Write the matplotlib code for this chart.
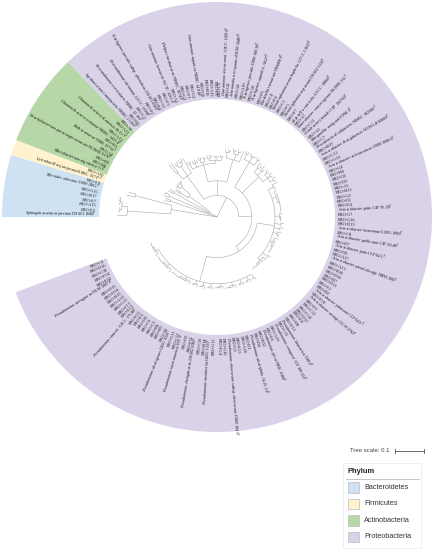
import matplotlib
matplotlib.use('Agg')
import matplotlib.pyplot as plt
import numpy as np
from matplotlib.collections import LineCollection
from matplotlib.patches import Rectangle

plt.rcParams['mathtext.fontset'] = 'custom'
plt.rcParams['mathtext.rm'] = 'Liberation Serif'
plt.rcParams['mathtext.it'] = 'Liberation Serif:italic'

# ---------------- data ----------------
LEAF_LABELS = [
    # Bacteroidetes (8)
    "Sphingobacterium faecium DSM 11690T", "BRO-E5", "BRO-A15", "BRO-E7", "BRO-B17", "BRO-G15",
    "Myroides odoratus DSM 2801T", "BRO-E9",
    # Firmicutes (2)
    "Lysinibacillus fusiformis NBRC 15717T", "BRO-A20",
    # Actinobacteria (12)
    "Microbacterium algeriense G1T", "BRO-B8", "BRO-B9",
    "Brachybacterium paraconglomeratum NCIMB 9176T", "BRO-A4",
    "Rothia amarae DSM 15714T", "BRO-B1",
    "Glutamicibacter nicotianae NBRC 14234T", "BRO-A12",
    "Glutamicibacter arilaitensis Re117T", "BRO-A11", "BRO-A6",
    # Proteobacteria (140)
    "Agrobacterium tumefaciens NBRC 15193T", "BRO-B5",
    "Brevundimonas vesicularis NBRC 12165T", "BRO-C2",
    "Brevundimonas diminuta ATCC 11568T", "BRO-F2",
    "Alcaligenes faecalis subsp. phenolicus DSM 16503T",
    "BRO-E2", "BRO-A1", "BRO-F3",
    "Comamonas kerstersii KCTC 12913T", "BRO-A2",
    "Delftia tsuruhatensis NBRC 16741T", "BRO-G1", "BRO-F1", "BRO-G2",
    "Comamonas aquatica NBRC 14918T", "BRO-G9", "BRO-B16", "BRO-A16", "BRO-F8", "BRO-C3",
    "Comamonas testosteroni ATCC 11996T", "BRO-G8",
    "Achromobacter spanius DSM 14407T", "BRO-A8", "BRO-A10",
    "Alcaligenes faecalis DSM 30030T", "BRO-C10",
    "Alcaligenes aquatilis AK27T", "BRO-F6",
    "Bordetella trematum H044680T", "BRO-C4", "BRO-F4",
    "Stenotrophomonas maltophilia ATCC 13637T", "BRO-C1", "BRO-F5",
    "Stenotrophomonas pavanii DSM 25135T", "BRO-F7",
    "Klebsiella variicola ATCC 19866T", "BRO-A7",
    "Enterobacter cancerogenus NCPPB 312T", "BRO-C13",
    "Citrobacter freundii CIP 102702T", "BRO-A3",
    "Morganella morganii PPS01T", "BRO-C7",
    "Providencia alcalifaciens NBRC 102560T", "BRO-B13",
    "Acinetobacter chengduensis WCHAc060005T", "BRO-C11", "BRO-G14",
    "Acinetobacter calcoaceticus DSM 30006T",
    "BRO-G4", "BRO-B4", "BRO-G6", "BRO-D3", "BRO-A5", "BRO-B11", "BRO-G3", "BRO-D2", "BRO-E4",
    "Acinetobacter pittii CIP 70.29T",
    "BRO-G7", "BRO-G16", "BRO-D13",
    "Acinetobacter bereziniae LMG 1003T", "BRO-C8",
    "Acinetobacter guillouiae CIP 63.46T", "BRO-D7",
    "Acinetobacter junii CIP 64.5T", "BRO-D6", "BRO-A17",
    "Acinetobacter pseudolwoffii NIPH 806T",
    "BRO-A13", "BRO-B10", "BRO-D10", "BRO-B7", "BRO-D11", "BRO-E1", "BRO-B2",
    "Acinetobacter johnsonii CIP 64.6T", "BRO-E10",
    "Acinetobacter ursingii LUH 3792T",
    "BRO-F9", "BRO-C12", "BRO-C14", "BRO-D12", "BRO-E8", "BRO-D8", "BRO-F12",
    "Pseudomonas khazarica TBZ2T", "BRO-C15",
    "Pseudomonas composti CIP 109222T", "BRO-A19", "BRO-E6",
    "Pseudomonas fulva NRIC 0180T", "BRO-B12", "BRO-D4",
    "Pseudomonas alcaliphila AL15-21T", "BRO-D1", "BRO-A18", "BRO-E11", "BRO-G5",
    "Pseudomonas oleovorans subsp. oleovorans DSM 1045T",
    "BRO-G10", "BRO-E14", "BRO-G12",
    "Pseudomonas mendocina LMG 1223T", "BRO-B14", "BRO-C16",
    "Pseudomonas chengduensis DSM 26382T", "BRO-F11", "BRO-D5",
    "Pseudomonas toyotomiensis HT-3T", "BRO-C17", "BRO-G11",
    "Pseudomonas alcaligenes LMG 1224T",
    "BRO-A9", "BRO-B3", "BRO-B6", "BRO-C5", "BRO-C6", "BRO-D9", "BRO-E3", "BRO-E12",
    "Pseudomonas stutzeri ATCC 17588T",
    "BRO-E13", "BRO-F13", "BRO-G13", "BRO-A14", "BRO-B15", "BRO-D14", "BRO-D15",
    "Pseudomonas aeruginosa DSM 50071T",
    "BRO-E15", "BRO-F14", "BRO-C18", "BRO-D16", "BRO-C9",
]

PHYLA = ["Bacteroidetes", "Firmicutes", "Actinobacteria", "Proteobacteria"]
PHYLUM_COUNTS = [8, 2, 12, 140]
PHYLUM_COLORS = ["#cfe2f3", "#fff2cc", "#b6d7a8", "#d9d2e9"]

# tree topology (leaf names are indices into LEAF_LABELS), branch lengths in substitutions/site
TREE_NEWICK = (
    "("
    "((0:0.035,((1:0.004,2:0.004):0.006,(3:0.003,(4:0.002,5:0.002):0.002):0.008):0.02):0.15,"
    "(6:0.03,7:0.025):0.13):0.16,"
    "(8:0.02,9:0.02):0.17,"
    "((10:0.02,(11:0.003,12:0.003):0.015):0.15,(13:0.02,14:0.018):0.14,"
    "((15:0.02,16:0.02):0.03,((17:0.008,18:0.008):0.01,(19:0.008,(20:0.003,21:0.003):0.004):0.01):0.04):0.09):0.03,"
    "("
    "((22:0.04,23:0.04):0.03,((24:0.012,25:0.012):0.01,(26:0.012,27:0.012):0.01):0.04,28:0.06):0.1,"
    "(((29:0.01,30:0.01):0.02,(31:0.01,32:0.012,33:0.01):0.015,((34:0.01,35:0.008):0.01,(36:0.004,37:0.004):0.012):0.01,"
    "((38:0.01,(39:0.003,40:0.003):0.006):0.01,(41:0.004,42:0.004,43:0.004):0.012,(44:0.008,45:0.005):0.012):0.01):0.06,"
    "((46:0.01,(47:0.004,48:0.004):0.006):0.02,((49:0.008,50:0.005):0.01,(51:0.01,52:0.006):0.01):0.02,53:0.04):0.08):0.05,"
    "("
    "((54:0.01,55:0.01):0.02,(56:0.01,57:0.005,58:0.006):0.02,(59:0.01,60:0.008):0.02):0.1,"
    "((61:0.02,62:0.015):0.02,(63:0.02,64:0.01):0.02,((65:0.01,66:0.006):0.01,(67:0.012,68:0.01):0.01,(69:0.015,70:0.01):0.01):0.02):0.08,"
    "("
    "((71:0.02,72:0.005,73:0.006):0.02,"
    "(74:0.01,(75:0.002,76:0.002,77:0.002,78:0.002,79:0.002,80:0.002,81:0.002,82:0.002,83:0.002):0.006):0.015,"
    "(84:0.01,(85:0.003,86:0.003,87:0.003):0.004):0.015,(88:0.012,89:0.005):0.02,(90:0.012,91:0.004):0.02,"
    "(92:0.012,(93:0.003,94:0.003):0.005):0.015,"
    "(95:0.015,(96:0.002,97:0.002,98:0.002,99:0.002,100:0.002,101:0.002,102:0.002):0.006):0.01,"
    "(103:0.012,104:0.004):0.02,"
    "(105:0.015,(106:0.002,107:0.002,108:0.002,109:0.002,110:0.002,111:0.002,112:0.002):0.006):0.01):0.06,"
    "(((113:0.01,114:0.005):0.015,(115:0.01,(116:0.002,117:0.002):0.004):0.012,"
    "(118:0.01,(119:0.002,120:0.002):0.004):0.012,"
    "(121:0.01,(122:0.002,123:0.002,124:0.002,125:0.002):0.005):0.012,"
    "(126:0.008,(127:0.002,128:0.002,129:0.002):0.004):0.01,"
    "(130:0.01,(131:0.002,132:0.002):0.004):0.012,(133:0.01,(134:0.002,135:0.002):0.004):0.012,"
    "(136:0.01,(137:0.002,138:0.002):0.004):0.012,"
    "(139:0.012,(140:0.002,141:0.002,142:0.002,143:0.002,144:0.002,145:0.002,146:0.002,147:0.002):0.005):0.01,"
    "(148:0.012,(149:0.002,150:0.002,151:0.002,152:0.002,153:0.002,154:0.002,155:0.002):0.005):0.01,"
    "(156:0.012,(157:0.002,158:0.002,159:0.002,160:0.002,161:0.002):0.005):0.01):0.06):0.03"
    "):0.02"
    "):0.045"
    "):0.075"
    ");"
)
SCALE_BAR_VALUE = 0.1


# ---------------- helpers ----------------
def parse_newick(s):
    s = "".join(s.split())
    pos = 0

    def node():
        nonlocal pos
        n = {"children": [], "name": None, "len": 0.0}
        if s[pos] == "(":
            pos += 1
            n["children"].append(node())
            while s[pos] == ",":
                pos += 1
                n["children"].append(node())
            pos += 1  # ')'
        st = pos
        while pos < len(s) and s[pos] not in ":,();":
            pos += 1
        if s[st:pos]:
            n["name"] = int(s[st:pos])
        if pos < len(s) and s[pos] == ":":
            pos += 1
            st = pos
            while s[pos] not in ",();":
                pos += 1
            n["len"] = float(s[st:pos])
        return n

    return node()


def fmt_label(lab):
    if lab.startswith("BRO"):
        return lab
    w = lab.split()
    if len(w) > 3 and w[2] == "subsp.":
        sp = r"$\mathit{%s}\ \mathit{%s}$ subsp. $\mathit{%s}$" % (w[0], w[1], w[3])
        rest = w[4:]
    else:
        sp = r"$\mathit{%s}\ \mathit{%s}$" % (w[0], w[1])
        rest = w[2:]
    strain = " ".join(rest)
    if strain.endswith("T"):
        strain = strain[:-1] + r"$^{\mathrm{T}}$"
    return sp + " " + strain


# ---------------- layout ----------------
W, H = 435, 550
CX, CY = 217.0, 217.0
R_IN, R_OUT = 118.0, 215.0
R_LABEL = 121.0
PX_PER_UNIT = 290.0
ARC_START, ARC_END = 180.0, -159.5

N = len(LEAF_LABELS)
step = (ARC_START - ARC_END) / N
leaf_theta = [ARC_START - (i + 0.5) * step for i in range(N)]


def pt(r, th):
    t = np.deg2rad(th)
    return CX + r * np.cos(t), CY - r * np.sin(t)


fig = plt.figure(figsize=(W / 100, H / 100), dpi=100)
ax = fig.add_axes([0, 0, 1, 1])
ax.set_xlim(0, W)
ax.set_ylim(H, 0)
ax.axis("off")

# phylum ring
b = 0
for name, cnt, col in zip(PHYLA, PHYLUM_COUNTS, PHYLUM_COLORS):
    t0 = ARC_START - b * step
    t1 = ARC_START - (b + cnt) * step
    ths = np.linspace(t0, t1, 200)
    xo, yo = pt(R_OUT, ths)
    xi, yi = pt(R_IN, ths[::-1])
    ax.fill(np.r_[xo, xi], np.r_[yo, yi], color=col, lw=0, zorder=1)
    b += cnt

# tree
root = parse_newick(TREE_NEWICK)


def layout(n, depth):
    n["r"] = depth + n["len"]
    if n["children"]:
        for c in n["children"]:
            layout(c, n["r"])
        n["theta"] = 0.5 * (n["children"][0]["theta"] + n["children"][-1]["theta"])
    else:
        n["theta"] = leaf_theta[n["name"]]


layout(root, 0.0)
segs = []


def draw(n):
    if not n["children"]:
        return
    rp = n["r"] * PX_PER_UNIT
    for c in n["children"]:
        p0 = pt(rp, c["theta"])
        p1 = pt(c["r"] * PX_PER_UNIT, c["theta"])
        segs.append([p0, p1])
        draw(c)
    if rp > 0:
        ths = np.linspace(n["children"][0]["theta"], n["children"][-1]["theta"], 60)
        xs, ys = pt(rp, ths)
        segs.append(np.column_stack([xs, ys]))


draw(root)
ax.add_collection(LineCollection(segs, colors="#a8a8a8", linewidths=0.4, zorder=2))

# leaf labels
for i, lab in enumerate(LEAF_LABELS):
    th = leaf_theta[i]
    x, y = pt(R_LABEL, th)
    if -90 <= th <= 90:
        rot, ha = th, "left"
    else:
        rot, ha = th - 180, "right"
    ax.text(x, y, fmt_label(lab), rotation=rot, rotation_mode="anchor",
            ha=ha, va="center", fontsize=3.1, family="Liberation Serif",
            color="#1a1a1a", zorder=3)

# tree scale
bar_px = SCALE_BAR_VALUE * PX_PER_UNIT
bx0, by = 395.0, 451.0
ax.text(bx0 - 5, by, "Tree scale: %g" % SCALE_BAR_VALUE, ha="right", va="center",
        fontsize=4.3, family="Liberation Sans", color="#444444")
ax.plot([bx0, bx0 + bar_px], [by, by], color="#555555", lw=0.6)
ax.plot([bx0, bx0], [by - 2, by + 2], color="#555555", lw=0.6)
ax.plot([bx0 + bar_px, bx0 + bar_px], [by - 2, by + 2], color="#555555", lw=0.6)

# legend
ax.add_patch(Rectangle((343, 463), 78, 85, facecolor="white", edgecolor="#ececec", lw=0.6, zorder=4))
ax.text(348, 471.5, "Phylum", ha="left", va="center", fontsize=5.4, fontweight="bold",
        family="Liberation Sans", color="#222222", zorder=5)
ax.plot([346, 419], [478.5, 478.5], color="#bbbbbb", lw=0.6, zorder=5)
for k, (name, col) in enumerate(zip(PHYLA, PHYLUM_COLORS)):
    yk = 482 + k * 16.5
    ax.add_patch(Rectangle((348, yk), 11, 10.5, facecolor=col, edgecolor="#bdbdbd", lw=0.5, zorder=5))
    ax.text(364, yk + 5.3, name, ha="left", va="center", fontsize=5.2,
            family="Liberation Sans", color="#333333", zorder=5)

fig.savefig("out.png", dpi=100)
